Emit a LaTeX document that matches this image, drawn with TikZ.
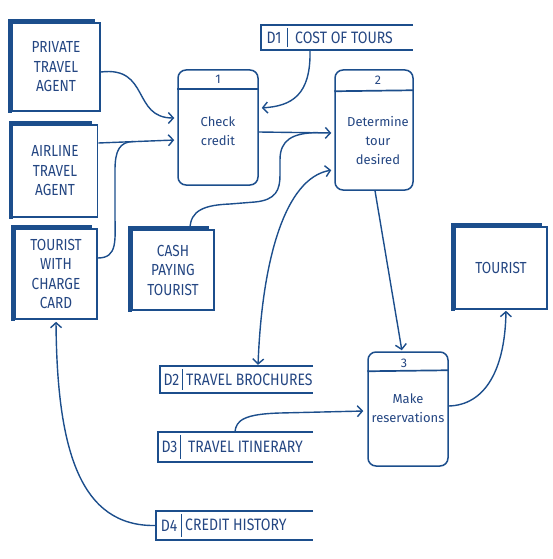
\documentclass[tikz,border=0pt]{standalone}
\usepackage{fontspec}
\setmainfont{Fira Sans}
\newfontfamily\capsfont[FakeStretch=0.85]{Fira Sans}
\usetikzlibrary{arrows.meta}
\definecolor{inkc}{RGB}{28,78,140}
\definecolor{textc}{RGB}{36,70,130}
\begin{document}
\begin{tikzpicture}[x=1pt,y=-1pt,
  entity/.style={draw=inkc, line width=1.6pt, inner sep=0pt, text=textc, align=center,
     font=\capsfont\fontsize{16}{19.5}\selectfont},
  proc/.style={draw=inkc, line width=1.5pt, rounded corners=8pt, inner sep=0pt},
  ptext/.style={text=textc, align=center, inner sep=0pt, font=\fontsize{13}{19}\selectfont},
  pnum/.style={text=textc, inner sep=0pt, font=\fontsize{12.5}{14}\selectfont},
  store/.style={inner sep=0pt},
  stext/.style={text=textc, inner sep=0pt, font=\capsfont\fontsize{16.5}{18}\selectfont},
  edge/.style={draw=inkc, line width=1.7pt},
  thin/.style={draw=inkc, line width=0.7pt},
  link/.style={draw=inkc, line width=1.4pt},
  flow/.style={link, -{Straight Barb[length=5pt,width=11pt,line width=1.4pt]}, shorten >=1pt},
  bflow/.style={link, {Straight Barb[length=5pt,width=11pt,line width=1.4pt]}-{Straight Barb[length=5pt,width=11pt,line width=1.4pt]}, shorten >=1pt, shorten <=1pt}
]
\useasboundingbox (0,0) rectangle (553,559);

% external entities
\node[entity, minimum width=88pt, minimum height=88pt] (pta) at (56,67) {PRIVATE\\TRAVEL\\AGENT};
\node[entity, minimum width=85pt, minimum height=92pt] (ata) at (55,171) {AIRLINE\\TRAVEL\\AGENT};
\node[entity, minimum width=82pt, minimum height=90pt] (twcc) at (56,274) {TOURIST\\WITH\\CHARGE\\CARD};
\node[entity, minimum width=82pt, minimum height=80pt] (cash) at (173,270) {CASH\\PAYING\\TOURIST};
\node[entity, minimum width=92pt, minimum height=82pt] (tour) at (501,268) {TOURIST};
\foreach \n in {pta,ata,twcc,cash,tour}
  \draw[inkc, line width=3.8pt] ([xshift=-1pt,yshift=-1pt]\n.south west) -- ([xshift=-1pt,yshift=1pt]\n.north west) -- ([xshift=-6pt,yshift=1pt]\n.north east);

% processes
\node[proc, minimum width=80pt, minimum height=115pt] (p1) at (218,127.5) {};
\node[proc, minimum width=78pt, minimum height=120pt] (p2) at (374,130) {};
\node[proc, minimum width=80pt, minimum height=114pt] (p3) at (408,409) {};
\draw[edge] ([yshift=-20pt]p1.north west) -- ([yshift=-20pt]p1.north east);
\draw[edge] ([yshift=-22pt]p2.north west) -- ([yshift=-21pt]p2.north east);
\draw[edge] ([yshift=-20pt]p3.north west) -- ([yshift=-19pt]p3.north east);
\node[pnum] (n1) at (218,79) {1};
\node[pnum] (n2) at (378,80) {2};
\node[pnum] (n3) at (404,363) {3};
\node[ptext] (t1) at (218,131) {Check\\credit};
\node[ptext] (t2) at (378,141) {Determine\\tour\\desired};
\node[ptext] (t3) at (408,408) {Make\\reservations};

% data stores
\node[store, minimum width=152pt, minimum height=25pt] (d1) at (337,37.5) {};
\node[store, minimum width=153pt, minimum height=27pt] (d2) at (236.5,379.5) {};
\node[store, minimum width=155pt, minimum height=30pt] (d3) at (235.5,447) {};
\node[store, minimum width=157pt, minimum height=29pt] (d4) at (234.5,525.5) {};
\foreach \n/\dx in {d1/27,d2/23,d3/23,d4/26}{
  \draw[edge] (\n.north east) -- (\n.north west) -- (\n.south west) -- (\n.south east);
  \draw[thin] ([xshift=\dx pt,yshift=-3pt]\n.north west) -- ([xshift=\dx pt,yshift=3pt]\n.south west);
}
\node[stext] (d1a) at (274,38) {D1};
\node[stext, anchor=west] (d1b) at (295,38) {COST OF TOURS};
\node[stext] (d2a) at (171.5,380) {D2};
\node[stext, anchor=west] (d2b) at (186,380) {TRAVEL BROCHURES};
\node[stext] (d3a) at (169.5,447) {D3};
\node[stext, anchor=west] (d3b) at (188,447) {TRAVEL ITINERARY};
\node[stext] (d4a) at (169,526) {D4};
\node[stext, anchor=west] (d4b) at (185,525) {CREDIT HISTORY};

% junction points
\coordinate (j1) at (133,141.5);
\coordinate (j2) at (318,132.5);

% flows
\draw[flow] ([yshift=-5pt]pta.east) .. controls (150,66) and (132,118) .. ([xshift=-2pt,yshift=9.5pt]p1.west);
\draw[flow] ([yshift=28pt]ata.east) -- ([xshift=-2pt,yshift=-12.5pt]p1.west);
\draw[link] ([yshift=16pt]twcc.east) .. controls (118,258) and (115,240) .. (115,215) -- (115,170) .. controls (115,150) and (120,142) .. (j1);
\draw[flow] ([xshift=-27pt]d1.south) .. controls (311,95) and (292,106) .. ([xshift=2pt,yshift=19.5pt]p1.east);
\draw[flow] ([yshift=-4.5pt]p1.east) -- ([xshift=-2pt,yshift=-3pt]p2.west);
\draw[link] ([xshift=17pt]cash.north) .. controls (190,210) and (205,205) .. (230,204) -- (255,202) .. controls (276,200) and (280,190) .. (280,175) -- (280,160) .. controls (280,140) and (292,133) .. (j2);
\draw[bflow] ([xshift=21.5pt]d2.north) .. controls (262,260) and (285,178) .. ([xshift=-2pt,yshift=-40pt]p2.west);
\draw[flow] ([xshift=1pt]p2.south) -- ([xshift=-6pt]p3.north);
\draw[flow] ([xshift=-0.5pt]d3.north) .. controls (236,420) and (245,414) .. (280,413) -- ([xshift=-3pt,yshift=-2pt]p3.west);
\draw[flow] ([yshift=3pt]p3.east) .. controls (485,405) and (505,370) .. ([xshift=5pt]tour.south);
\draw[flow] (d4.west) .. controls (80,527) and (57,450) .. ([yshift=-1pt]twcc.south);
\end{tikzpicture}
\end{document}
